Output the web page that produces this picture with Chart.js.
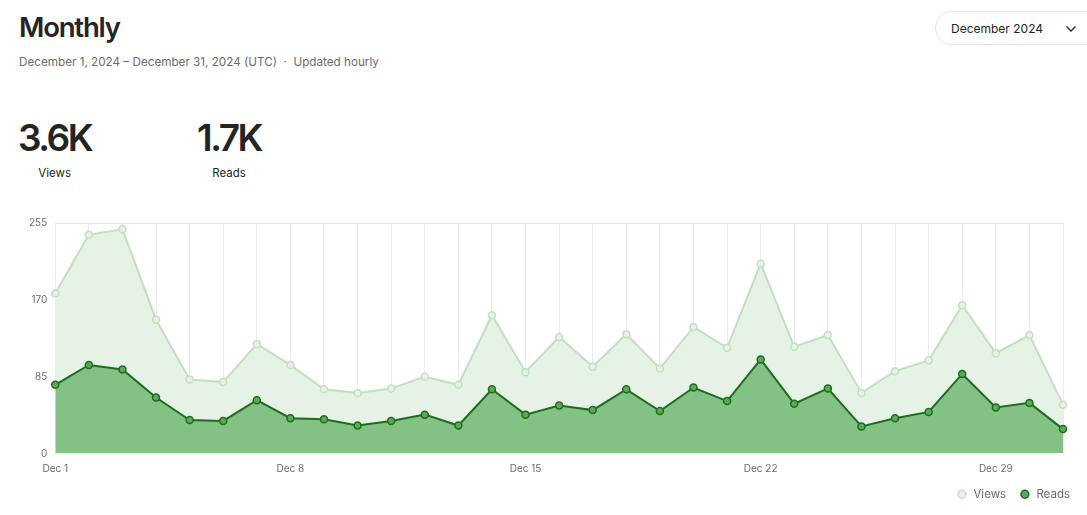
<!DOCTYPE html>
<html>
<head>
<meta charset="utf-8">
<script src="https://cdn.jsdelivr.net/npm/chart.js@4.4.1/dist/chart.umd.min.js"></script>
<style>
    body { margin: 0; background: #fff; font-family: Inter, "Noto Sans", sans-serif; color: #242424; }
    .wrap { position: relative; width: 1087px; height: 515px; overflow: hidden; }
    h1 { position: absolute; left: 19px; top: 10px; margin: 0; font-size: 27.5px; font-weight: 600; letter-spacing: -1.2px; }
    .sub { position: absolute; left: 19px; top: 55px; font-size: 11.7px; color: #6b6b6b; }
    .select { position: absolute; left: 935px; top: 11px; width: 170px; height: 34px; border: 1px solid #e3e3e3; border-radius: 17px; box-sizing: border-box; }
    .select span { position: absolute; left: 15px; top: 9px; font-size: 12px; }
    .select svg { position: absolute; left: 129px; top: 13px; }
    .stat { position: absolute; top: 117px; text-align: center; }
    .stat b { display: block; font-size: 37px; font-weight: 600; letter-spacing: -2.5px; line-height: 42px; }
    .stat small { display: block; font-size: 11.5px; margin-top: 7px; }
    #chart-box { position: absolute; left: 0; top: 209px; width: 1087px; height: 301px; }
</style>
</head>
<body>
<div class="wrap">
    <h1>Monthly</h1>
    <div class="sub">December 1, 2024 – December 31, 2024 (UTC) &nbsp;·&nbsp; Updated hourly</div>
    <div class="select"><span>December 2024</span>
        <svg width="12" height="8" viewBox="0 0 12 8"><path d="M1.5 1.5 L6 6 L10.5 1.5" fill="none" stroke="#242424" stroke-width="1.3"/></svg>
    </div>
    <div class="stat" style="left:18px"><b>3.6K</b><small>Views</small></div>
    <div class="stat" style="left:197px"><b>1.7K</b><small>Reads</small></div>
    <div id="chart-box"><canvas id="statsChart"></canvas></div>
</div>
<script>
const days = [];
for (let d = 1; d <= 31; d++) days.push('Dec ' + d);
const views = [177, 242, 248, 148, 82, 79, 121, 98, 71, 67, 72, 85, 76, 153, 90, 129, 96, 132, 94, 140,
               117, 210, 118, 131, 67, 91, 103, 164, 111, 131, 54];
const reads = [76, 98, 93, 62, 37, 36, 59, 39, 38, 31, 36, 43, 31, 71, 43, 53, 48, 71, 47, 73,
               58, 104, 55, 72, 30, 39, 46, 88, 51, 56, 27];
const yTicks = [0, 85, 170, 255];

const ctx = document.getElementById('statsChart').getContext('2d');
new Chart(ctx, {
    type: 'line',
    data: {
        labels: days,
        datasets: [{
            label: 'Views',
            data: views,
            borderColor: '#c2e0bf',
            backgroundColor: '#e7f2e6',
            pointBackgroundColor: '#e7f2e6',
            pointBorderColor: '#c2e0bf',
            borderWidth: 2,
            pointRadius: 3.5,
            pointBorderWidth: 1.5,
            fill: 'origin',
            tension: 0,
            order: 2
        }, {
            label: 'Reads',
            data: reads,
            borderColor: '#1b6e1b',
            backgroundColor: '#84c184',
            pointBackgroundColor: '#5ea85e',
            pointBorderColor: '#1b6e1b',
            borderWidth: 2,
            pointRadius: 3.5,
            pointBorderWidth: 1.5,
            fill: 'origin',
            tension: 0,
            order: 1
        }]
    },
    options: {
        responsive: true,
        maintainAspectRatio: false,
        animation: false,
        layout: { padding: { left: 21, right: 4, top: 0, bottom: 0 } },
        plugins: {
            legend: {
                position: 'bottom',
                align: 'end',
                labels: {
                    usePointStyle: true,
                    pointStyle: 'circle',
                    boxWidth: 11.5,
                    boxHeight: 5.5,
                    padding: 13,
                    color: '#6b6b6b',
                    font: { family: 'Inter', size: 11.5 },
                    sort: (a, b) => a.datasetIndex - b.datasetIndex
                }
            },
            tooltip: { enabled: false }
        },
        scales: {
            x: {
                grid: { color: '#ebebeb', drawTicks: false },
                border: { display: false },
                ticks: {
                    autoSkip: false,
                    maxRotation: 0,
                    padding: 9,
                    color: '#6b6b6b',
                    font: { family: 'Inter', size: 10 },
                    callback: (v, i) => (i % 7 === 0 ? days[i] : '')
                },
                // pull the legend up closer to the date labels
                afterFit: s => { s.height -= 8; }
            },
            y: {
                min: 0,
                max: 255,
                afterBuildTicks: axis => { axis.ticks = yTicks.map(v => ({ value: v })); },
                grid: {
                    drawTicks: false,
                    color: c => (c.tick && c.tick.value === 255 ? '#e6e6e6' : 'rgba(0,0,0,0)')
                },
                border: { display: false },
                ticks: {
                    padding: 8,
                    color: '#6b6b6b',
                    font: { family: 'Inter', size: 10 }
                }
            },
            // empty right-hand axis, only keeps the plot clear of the legend's right edge
            yRight: {
                position: 'right',
                grid: { display: false },
                border: { display: false },
                ticks: { display: false },
                afterFit: s => { s.width = 20; }
            }
        }
    }
});
</script>
</body>
</html>
